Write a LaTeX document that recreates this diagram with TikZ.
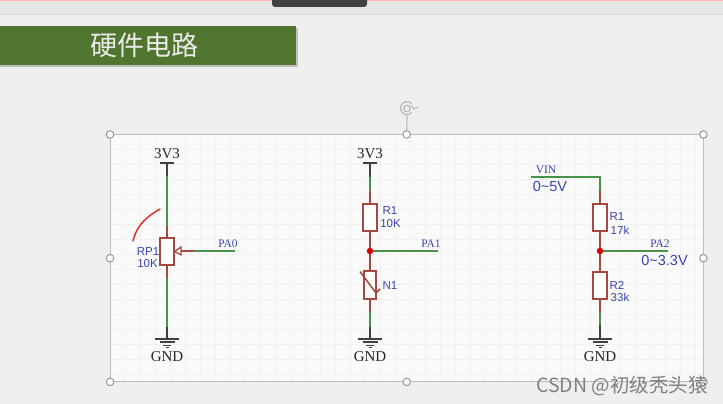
\documentclass[tikz,border=0pt]{standalone}
\usepackage{fontspec}
\setmainfont{Liberation Serif}
\setsansfont{Liberation Sans}
\newfontfamily\cjkfont{Noto Sans CJK SC}
\usepackage{tikz}
\definecolor{pagegray}{HTML}{EFEFEF}
\definecolor{bargray}{HTML}{E6E6E6}
\definecolor{bannergreen}{HTML}{50752F}
\definecolor{netgreen}{HTML}{48934C}
\definecolor{pinred}{HTML}{A5483F}
\definecolor{inkred}{HTML}{E0302A}
\definecolor{labelblue}{HTML}{3A45B0}
\definecolor{framegray}{HTML}{BDBDBD}
\tikzset{
    net/.style={netgreen, line width=1.5pt},
    pin/.style={pinred, line width=1.5pt},
    rail/.style={black!75, line width=1.5pt},
    res/.style={draw=pinred, line width=1.4pt, fill=white, minimum width=14pt, minimum height=27pt, inner sep=0pt},
    netlabel/.style={labelblue, font=\fontsize{11.5}{12}\selectfont, inner sep=0pt},
    partlabel/.style={labelblue, font=\sffamily\fontsize{11.5}{12}\selectfont, inner sep=0pt},
    rangelabel/.style={labelblue, font=\sffamily\fontsize{14.5}{15}\selectfont, inner sep=0pt},
    powerlabel/.style={black!85, font=\fontsize{15}{15}\selectfont, inner sep=0pt},
    handle/.style={circle, draw=framegray!80!black, fill=white, line width=1pt, minimum size=7.5pt, inner sep=0pt},
    junction/.style={circle, fill=red!85!black, minimum size=6.5pt, inner sep=0pt},
}
% rail bar with its label on top
\newcommand{\vccbar}[3]{%
    \node[powerlabel] at (#2,154) {3V3};
    \coordinate (#1) at (#2,#3);
    \draw[rail] (#2-7,#3) -- (#2+7,#3);
}
% ground symbol, #1 is the name of its top point
\newcommand{\gndsym}[3]{%
    \coordinate (#1) at (#2,#3);
    \draw[rail] (#2-12,#3) -- (#2+12,#3);
    \draw[rail, line width=1.1pt] (#2-7.5,#3+3) -- (#2+7.5,#3+3);
    \draw[rail, line width=1pt] (#2-4,#3+6) -- (#2+4,#3+6);
    \draw[rail, line width=0.8pt] (#2-1.5,#3+8.5) -- (#2+1.5,#3+8.5);
    \node[powerlabel] at (#2,#3+18) {GND};
}

\begin{document}
\begin{tikzpicture}[x=1pt,y=-1pt]
    \useasboundingbox (0,0) rectangle (723,404);
    % window
    \fill[pagegray] (0,0) rectangle (723,404);
    \fill[bargray] (0,0) rectangle (723,14);
    \fill[red!30!white] (0,0) rectangle (723,1);
    \draw[black!15] (0,14) -- (723,14);
    \fill[black!75, rounded corners=3pt] (272,-5) rectangle (367,7);
    % title
    \fill[black!25] (0,28) rectangle (298,67);
    \node[fill=bannergreen, minimum width=296pt, minimum height=39pt, inner sep=0pt, anchor=north west] (banner) at (0,26) {};
    \node[text=white!92!black, font=\cjkfont\fontsize{27}{27}\selectfont, inner sep=0pt] (title) at (144.5,45.5) {硬件电路};
    % selected sheet
    \node[fill=white!98!black, minimum width=593pt, minimum height=247pt, inner sep=0pt, anchor=north west] (sheet) at (110,134.5) {};
    \foreach \x in {125,140,...,695}
        \draw[black!5] (\x,134.5) -- (\x,381.5);
    \foreach \y in {149.5,164.5,...,375}
        \draw[black!5] (110,\y) -- (703,\y);
    \draw[framegray, line width=1pt] (sheet.north west) rectangle (sheet.south east);
    \node[handle] (top) at (sheet.north) {};
    \coordinate (turn) at (407,115);
    \draw[framegray, line width=1.2pt] (top) -- (turn);
    \foreach \a in {north west,north east,west,east,south west,south,south east}
        \node[handle] at (sheet.\a) {};
    \draw[framegray, line width=1.4pt] (412,104) arc (-40:-320:6.5);
    \draw[framegray, line width=1.4pt] (407,108.5) circle (3.2pt);
    \draw[framegray, line width=1.3pt] (411.5,106) -- (414,109) -- (418,107);

    % potentiometer
    \vccbar{vcca}{167}{163}
    \gndsym{gnda}{167}{339}
    \node[res] (rp) at (167,251.5) {};
    \coordinate (a1) at (167,176);
    \coordinate (a2) at (167,226);
    \coordinate (a3) at (167,278);
    \coordinate (a4) at (167,327);
    \draw[rail] (vcca) -- (a1);
    \draw[net] (a1) -- (a2);
    \draw[pin] (a2) -- (rp);
    \draw[pin] (rp) -- (a3);
    \draw[net] (a3) -- (a4);
    \draw[rail] (a4) -- (gnda);
    \coordinate (ta) at (181,251);
    \coordinate (wa) at (193,251);
    \coordinate (pa0) at (235,251);
    \draw[pin, line width=1.3pt, fill=white] (rp.east) -- (181,247) -- (181,255) -- cycle;
    \draw[pin] (ta) -- (wa);
    \draw[net] (wa) -- (pa0);
    \node[netlabel] at (228,244) {PA0};
    \node[partlabel] at (148,252) {RP1};
    \node[partlabel] at (147.5,264) {10K};
    \draw[inkred, line width=1.5pt, line cap=round] (133,241) .. controls (137,224) and (148,216) .. (160,209);

    % thermistor
    \vccbar{vccb}{370}{163}
    \gndsym{gndb}{370}{339}
    \node[res] (rb) at (370,217.5) {};
    \node[res, minimum width=12pt, minimum height=28pt] (nb) at (370,285) {};
    \node[junction] (jb) at (370,251) {};
    \coordinate (b1) at (370,177);
    \coordinate (b2) at (370,191);
    \coordinate (b3) at (370,312);
    \coordinate (b4) at (370,327);
    \coordinate (pa1) at (438,251);
    \draw[rail] (vccb) -- (b1);
    \draw[net] (b1) -- (b2);
    \draw[pin] (b2) -- (rb);
    \draw[pin] (rb) -- (jb);
    \draw[pin] (jb) -- (nb);
    \draw[pin] (nb) -- (b3);
    \draw[net] (b3) -- (b4);
    \draw[rail] (b4) -- (gndb);
    \draw[net] (jb) -- (pa1);
    \draw[pin] (360,271.5) -- (376,293) -- (380,289);
    \node[netlabel] at (431,244) {PA1};
    \node[partlabel] at (390,211) {R1};
    \node[partlabel] at (390.5,224) {10K};
    \node[partlabel] at (390,285.5) {N1};

    % divider
    \gndsym{gndc}{600}{339}
    \node[res] (rc) at (600,217.5) {};
    \node[res] (rd) at (600,285.5) {};
    \node[junction] (jc) at (600,251) {};
    \coordinate (vin) at (531,177);
    \coordinate (c0) at (600,177);
    \coordinate (c1) at (600,191);
    \coordinate (c2) at (600,312);
    \coordinate (c3) at (600,325);
    \coordinate (pa2) at (668,251);
    \draw[net] (vin) -- (c0) -- (c1);
    \draw[pin] (c1) -- (rc);
    \draw[pin] (rc) -- (jc);
    \draw[pin] (jc) -- (rd);
    \draw[pin] (rd) -- (c2);
    \draw[net] (c2) -- (c3);
    \draw[rail] (c3) -- (gndc);
    \draw[net] (jc) -- (pa2);
    \node[netlabel] at (546,169.5) {VIN};
    \node[rangelabel] at (550,186.5) {0\char`~5V};
    \node[partlabel] at (617,217) {R1};
    \node[partlabel] at (620,230) {17k};
    \node[netlabel] at (660,244) {PA2};
    \node[rangelabel] at (664.5,260.5) {0\char`~3.3V};
    \node[partlabel] at (617,285) {R2};
    \node[partlabel] at (620,297) {33k};

    % watermark
    \node[text=black!50, font=\cjkfont\fontsize{19.5}{20}\selectfont, inner sep=0pt] (mark) at (622,385.5) {CSDN @初级秃头猿};
\end{tikzpicture}
\end{document}
